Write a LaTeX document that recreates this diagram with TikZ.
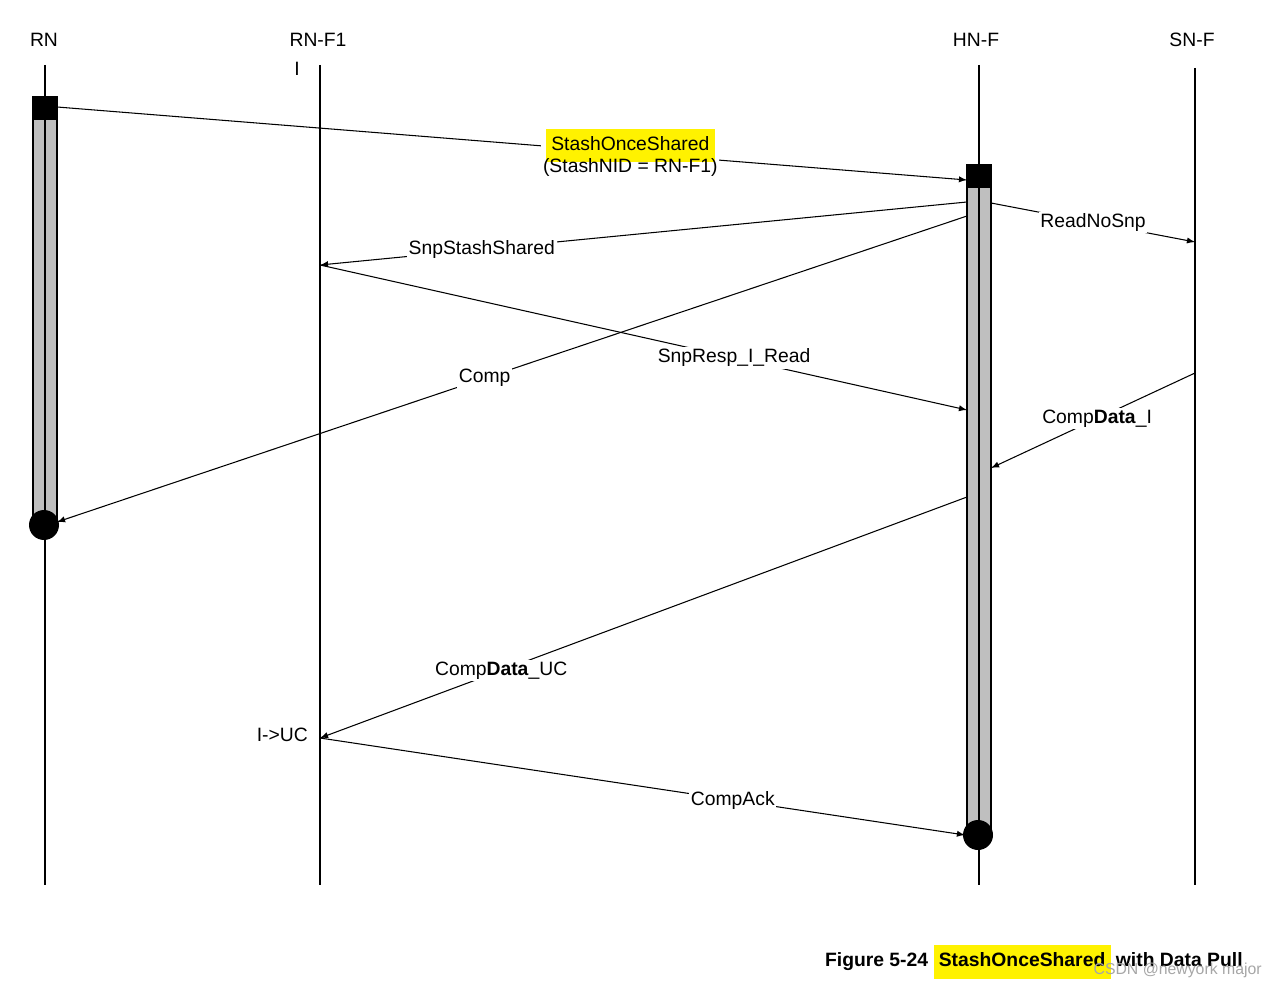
\documentclass[tikz,border=0pt]{standalone}
\usepackage{fontspec}
\setmainfont{Liberation Sans}
\usepackage{xcolor}
\usepackage{tikz}
\usetikzlibrary{arrows}
\tikzstyle{lifeline} = [line width=1.2pt]
\tikzstyle{bar} = [draw=black, fill=black!25, line width=0.8pt]
\tikzstyle{msg} = [line width=0.6pt,->,>=latex]
\tikzstyle{lbl} = [fill=white, inner sep=1pt, font=\fontsize{11}{13}\selectfont]
\tikzstyle{title} = [font=\fontsize{11}{13}\selectfont]

\begin{document}
\begin{tikzpicture}[x=0.02cm, y=-0.02cm]
\useasboundingbox (0,0) rectangle (1277,989);
% lifelines
\node (rn) [title] at (44,40) {RN};
\node (rnf) [title] at (318,40) {RN-F1};
\node (rnfi) [title] at (297,69) {I};
\node (hnf) [title] at (976,40) {HN-F};
\node (snf) [title] at (1192,40) {SN-F};
\draw [lifeline] (45,65) -- (45,885);
\draw [lifeline] (320,65) -- (320,885);
\draw [lifeline] (979,65) -- (979,885);
\draw [lifeline] (1195,68) -- (1195,885);
% activation bars
\draw [bar] (33,97) rectangle (57,525);
\draw [lifeline] (45,97) -- (45,525);
\fill (33,97) rectangle (57,120);
\fill (44,525) circle (15);
\draw [bar] (967,165) rectangle (991,835);
\draw [lifeline] (979,165) -- (979,835);
\fill (967,165) rectangle (991,188);
\fill (978,835) circle (15);
% anchor points
\coordinate (rnA) at (57,107);
\coordinate (rnB) at (57,522);
\coordinate (rnfA) at (320,265);
\coordinate (rnfB) at (320,738);
\coordinate (hnA) at (967,180);
\coordinate (hnB) at (967,202);
\coordinate (hnC) at (991,203);
\coordinate (hnD) at (967,216);
\coordinate (hnE) at (967,410);
\coordinate (hnF) at (991,468);
\coordinate (hnG) at (967,497);
\coordinate (hnH) at (965,835);
\coordinate (snA) at (1195,242);
\coordinate (snB) at (1195,373);
% messages
\draw [msg] (rnA) -- node[lbl, pos=0.63, align=center] {\colorbox{yellow}{\strut StashOnceShared}\\[-3pt](StashNID = RN-F1)} (hnA);
\draw [msg] (hnB) -- node[lbl, pos=0.75] {SnpStashShared} (rnfA);
\draw [msg] (hnC) -- node[lbl, pos=0.5] {ReadNoSnp} (snA);
\draw [msg] (hnD) -- node[lbl, pos=0.53] {Comp} (rnB);
\draw [msg] (rnfA) -- node[lbl, pos=0.64] {SnpResp\_I\_Read} (hnE);
\draw [msg] (snB) -- node[lbl, pos=0.48] {Comp\textbf{Data}\_I} (hnF);
\draw [msg] (hnG) -- node[lbl, pos=0.72] {Comp\textbf{Data}\_UC} (rnfB);
\node (iuc) [title, anchor=east] at (314,735) {I->UC};
\draw [msg] (rnfB) -- node[lbl, pos=0.64] {CompAck} (hnH);
% caption
\node (cap) [font=\fontsize{11}{13}\selectfont\bfseries, anchor=east, inner sep=0pt] at (1243,962) {Figure 5-24 \colorbox{yellow}{\strut StashOnceShared} with Data Pull};
\node (wm) [font=\fontsize{9}{11}\selectfont, text=black!35, anchor=east, inner sep=0pt] at (1262,970) {CSDN @newyork major};
\end{tikzpicture}
\end{document}
